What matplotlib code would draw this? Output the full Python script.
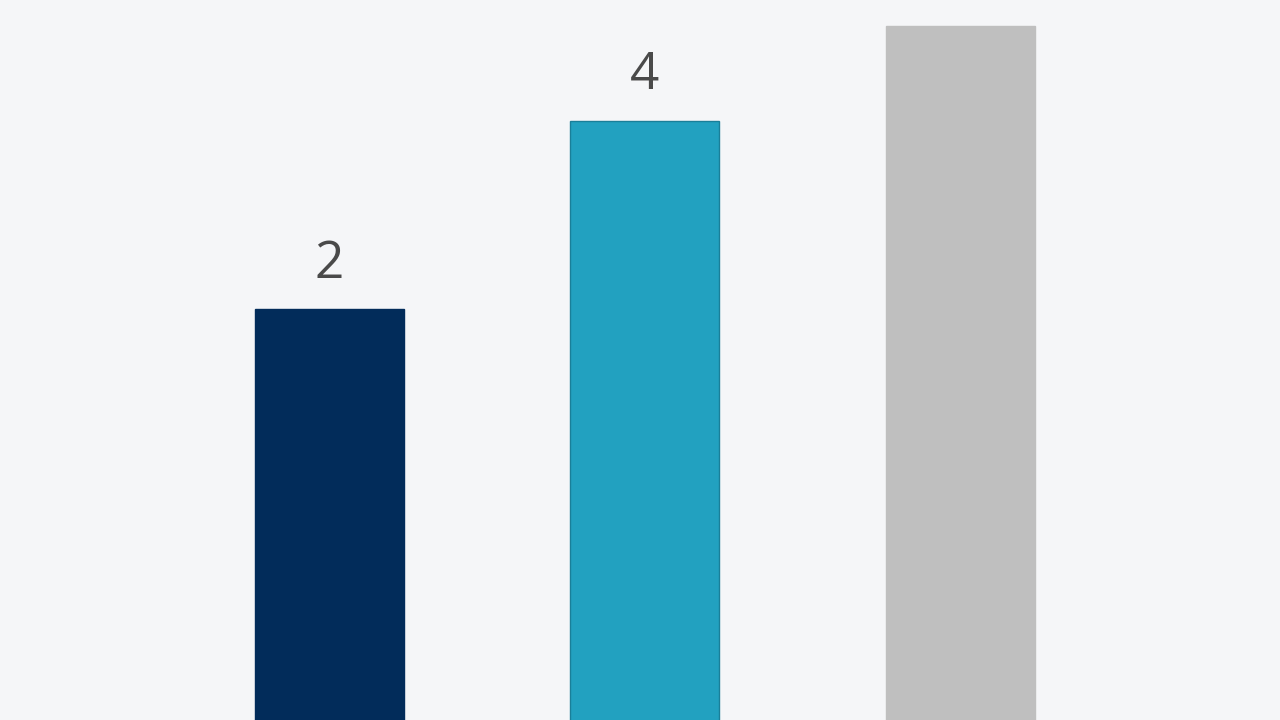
import matplotlib.pyplot as plt

categories = ["A", "B", "C"]
values = [2, 4, 5]
# the label of the last bar lies above the visible area in the reference
labels = ["2", "4", None]
colors = ["#022c5a", "#22a1c0", "#bfbfbf"]
edges = ["#022c5a", "#1a7f99", "#bfbfbf"]

# the view is cropped: the base of the bars lies below the visible area
BASE = -3

bg = "#f5f6f8"
fig = plt.figure(figsize=(12.8, 7.2), dpi=100, facecolor=bg)
ax = fig.add_axes([0, 0, 1, 1])
ax.set_facecolor(bg)

x = list(range(len(categories)))
heights = [v - BASE for v in values]
bars = ax.bar(x, heights, bottom=BASE, width=0.472, color=colors,
              edgecolor=edges, linewidth=1)

for rect, v, lab in zip(bars, values, labels):
    if lab is None:
        continue
    ax.annotate(lab, (rect.get_x() + rect.get_width() / 2, v),
                xytext=(0, 14), textcoords="offset points",
                ha="center", va="bottom", fontsize=37,
                family="Open Sans", color="#4a4a4a")

ax.set_xlim(-1.044, 3.013)
ax.set_ylim(-2.36, 5.28)
ax.axis("off")

fig.savefig("out.png", dpi=100, facecolor=bg)
